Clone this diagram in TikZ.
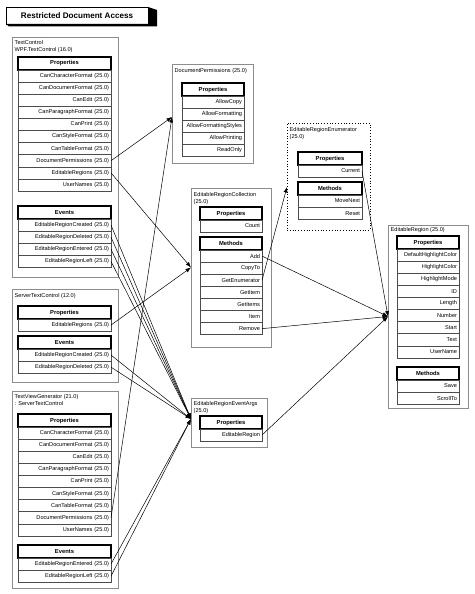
\documentclass[tikz,border=0pt]{standalone}
\usepackage{fontspec}
\setmainfont{Liberation Sans}
\usetikzlibrary{calc}
\usetikzlibrary{positioning}
\usetikzlibrary{arrows.meta}
\definecolor{FRAME}{rgb}{0.55,0.55,0.55}
\definecolor{ROW}{rgb}{0.30,0.30,0.30}
\tikzset{
  classbox/.style={draw=FRAME, line width=0.8pt, anchor=north west, inner sep=0pt, outer sep=0pt},
  classname/.style={anchor=north west, align=left, inner sep=0pt, font=\fontsize{5.6}{7.6}\selectfont},
  header/.style={draw=black, line width=1.4pt, anchor=north west, minimum width=#1, minimum height=13pt, inner sep=0pt, outer sep=0pt, font=\fontsize{5.8}{6}\selectfont\bfseries},
  member/.style={draw=ROW, line width=0.45pt, text width=#1, minimum height=12.1pt, inner xsep=2pt, inner ysep=0pt, outer sep=0pt, align=right, font=\fontsize{5.6}{6}\selectfont},
  link/.style={-{Latex[length=5.5pt,width=4pt]}, line width=0.5pt},
  banner/.style={draw=black, line width=0.8pt, fill=white, minimum width=142pt, minimum height=17pt, inner sep=0pt, outer sep=0pt, font=\fontsize{8.1}{9}\selectfont\bfseries}
}

\begin{document}
\begin{tikzpicture}[x=1pt,y=-1pt]
\useasboundingbox (0,0) rectangle (474,594);

% title with shadow
\node[banner] (title) at (77,15.5) {Restricted Document Access};
\fill (title.north east) -- ++(9,3) -- ++(0,16.5) -- ($(title.south west)+(3,2.5)$) -- (title.south west) -- (title.south east) -- cycle;

% TextControl
\node[classbox, minimum width=106pt, minimum height=240pt] (tc) at (12,37) {};
\node[classname] (tcname) at (14.5,40) {TextControl\\WPF.TextControl (16.0)};
\node[header=93pt] (tcp0) at (18,57) {Properties};
\foreach \m [count=\i, remember=\i as \j (initially 0)] in {CanCharacterFormat,CanDocumentFormat,CanEdit,CanParagraphFormat,CanPrint,CanStyleFormat,CanTableFormat,DocumentPermissions,EditableRegions,UserNames}
  \node[member=89pt, below=0pt of tcp\j] (tcp\i) {\m\ (25.0)};
\node[header=93pt] (tce0) at (18,206) {Events};
\foreach \m [count=\i, remember=\i as \j (initially 0)] in {EditableRegionCreated,EditableRegionDeleted,EditableRegionEntered,EditableRegionLeft}
  \node[member=89pt, below=0pt of tce\j] (tce\i) {\m\ (25.0)};

% ServerTextControl
\node[classbox, minimum width=106pt, minimum height=93pt] (stc) at (12,289) {};
\node[classname] (stcname) at (14.5,293) {ServerTextControl (12.0)};
\node[header=93pt] (stp0) at (18,306) {Properties};
\node[member=89pt, below=0pt of stp0] (stp1) {EditableRegions (25.0)};
\node[header=93pt] (ste0) at (18,336) {Events};
\foreach \m [count=\i, remember=\i as \j (initially 0)] in {EditableRegionCreated,EditableRegionDeleted}
  \node[member=89pt, below=0pt of ste\j] (ste\i) {\m\ (25.0)};

% TextViewGenerator
\node[classbox, minimum width=106pt, minimum height=197pt] (tvg) at (12,391) {};
\node[classname] (tvgname) at (14.5,394) {TextViewGenerator (21.0)\\: ServerTextControl};
\node[header=93pt] (tvp0) at (18,414) {Properties};
\foreach \m [count=\i, remember=\i as \j (initially 0)] in {CanCharacterFormat,CanDocumentFormat,CanEdit,CanParagraphFormat,CanPrint,CanStyleFormat,CanTableFormat,DocumentPermissions,UserNames}
  \node[member=89pt, below=0pt of tvp\j] (tvp\i) {\m\ (25.0)};
\node[header=93pt] (tve0) at (18,545) {Events};
\foreach \m [count=\i, remember=\i as \j (initially 0)] in {EditableRegionEntered,EditableRegionLeft}
  \node[member=89pt, below=0pt of tve\j] (tve\i) {\m\ (25.0)};

% DocumentPermissions
\node[classbox, minimum width=81pt, minimum height=99pt] (dp) at (172,64) {};
\node[classname] (dpname) at (174.5,68) {DocumentPermissions (25.0)};
\node[header=62pt] (dpp0) at (182,83) {Properties};
\foreach \m [count=\i, remember=\i as \j (initially 0)] in {AllowCopy,AllowFormatting,AllowFormattingStyles,AllowPrinting,ReadOnly}
  \node[member=58pt, below=0pt of dpp\j] (dpp\i) {\m};

% EditableRegionCollection
\node[classbox, minimum width=80pt, minimum height=159pt] (erc) at (191,188) {};
\node[classname] (ercname) at (193.5,192) {EditableRegionCollection\\(25.0)};
\node[header=62pt] (ercp0) at (200,207) {Properties};
\node[member=58pt, below=0pt of ercp0] (ercp1) {Count};
\node[header=62pt] (ercm0) at (200,237) {Methods};
\foreach \m [count=\i, remember=\i as \j (initially 0)] in {Add,CopyTo,GetEnumerator,GetItem,GetItems,Item,Remove}
  \node[member=58pt, below=0pt of ercm\j] (ercm\i) {\m};

% EditableRegionEventArgs
\node[classbox, minimum width=76pt, minimum height=49pt] (era) at (191,398) {};
\node[classname] (eraname) at (193.5,401) {EditableRegionEventArgs\\(25.0)};
\node[header=62pt] (erap0) at (200,416) {Properties};
\node[member=58pt, below=0pt of erap0] (erap1) {EditableRegion};

% EditableRegionEnumerator
\node[classbox, draw=black, dotted, minimum width=83pt, minimum height=107pt] (ere) at (287,123) {};
\node[classname] (erename) at (289.5,127) {EditableRegionEnumerator\\(25.0)};
\node[header=64pt] (erep0) at (298,152) {Properties};
\node[member=60pt, below=0pt of erep0] (erep1) {Current};
\node[header=64pt] (erem0) at (298,182) {Methods};
\foreach \m [count=\i, remember=\i as \j (initially 0)] in {MoveNext,Reset}
  \node[member=60pt, below=0pt of erem\j] (erem\i) {\m};

% EditableRegion
\node[classbox, minimum width=80pt, minimum height=183pt] (er) at (388,225) {};
\node[classname] (ername) at (390.5,227) {EditableRegion (25.0)};
\node[header=62pt] (erp0) at (397,236) {Properties};
\foreach \m [count=\i, remember=\i as \j (initially 0)] in {DefaultHighlightColor,HighlightColor,HighlightMode,ID,Length,Number,Start,Text,UserName}
  \node[member=58pt, below=0pt of erp\j] (erp\i) {\m};
\node[header=62pt] (erm0) at (397,367) {Methods};
\foreach \m [count=\i, remember=\i as \j (initially 0)] in {Save,ScrollTo}
  \node[member=58pt, below=0pt of erm\j] (erm\i) {\m};

% entry points
\coordinate (dpin) at ($(dp.north west)+(0,53)$);
\coordinate (erain) at ($(era.north west)+(0,21)$);
\coordinate (erein) at ($(ere.north west)+(0,64)$);

% connectors
\draw[link] (tcp8.east) -- (dpin);
\draw[link] (tvp8.east) -- (dpin);
\draw[link] (tcp9.east) -- (erc.west);
\draw[link] (stp1.east) -- (erc.west);
\foreach \i in {1,...,4}
  \draw[link] (tce\i.east) -- (erain);
\foreach \i in {1,2}
  \draw[link] (ste\i.east) -- (erain);
\foreach \i in {1,2}
  \draw[link] (tve\i.east) -- (erain);
\draw[link] (ercm3.east) -- (erein);
\draw[link] (ercm1.east) -- (er.west);
\draw[link] (ercm7.east) -- (er.west);
\draw[link] (erep1.east) -- (er.west);
\draw[link] (erap1.east) -- (er.west);
\end{tikzpicture}
\end{document}
